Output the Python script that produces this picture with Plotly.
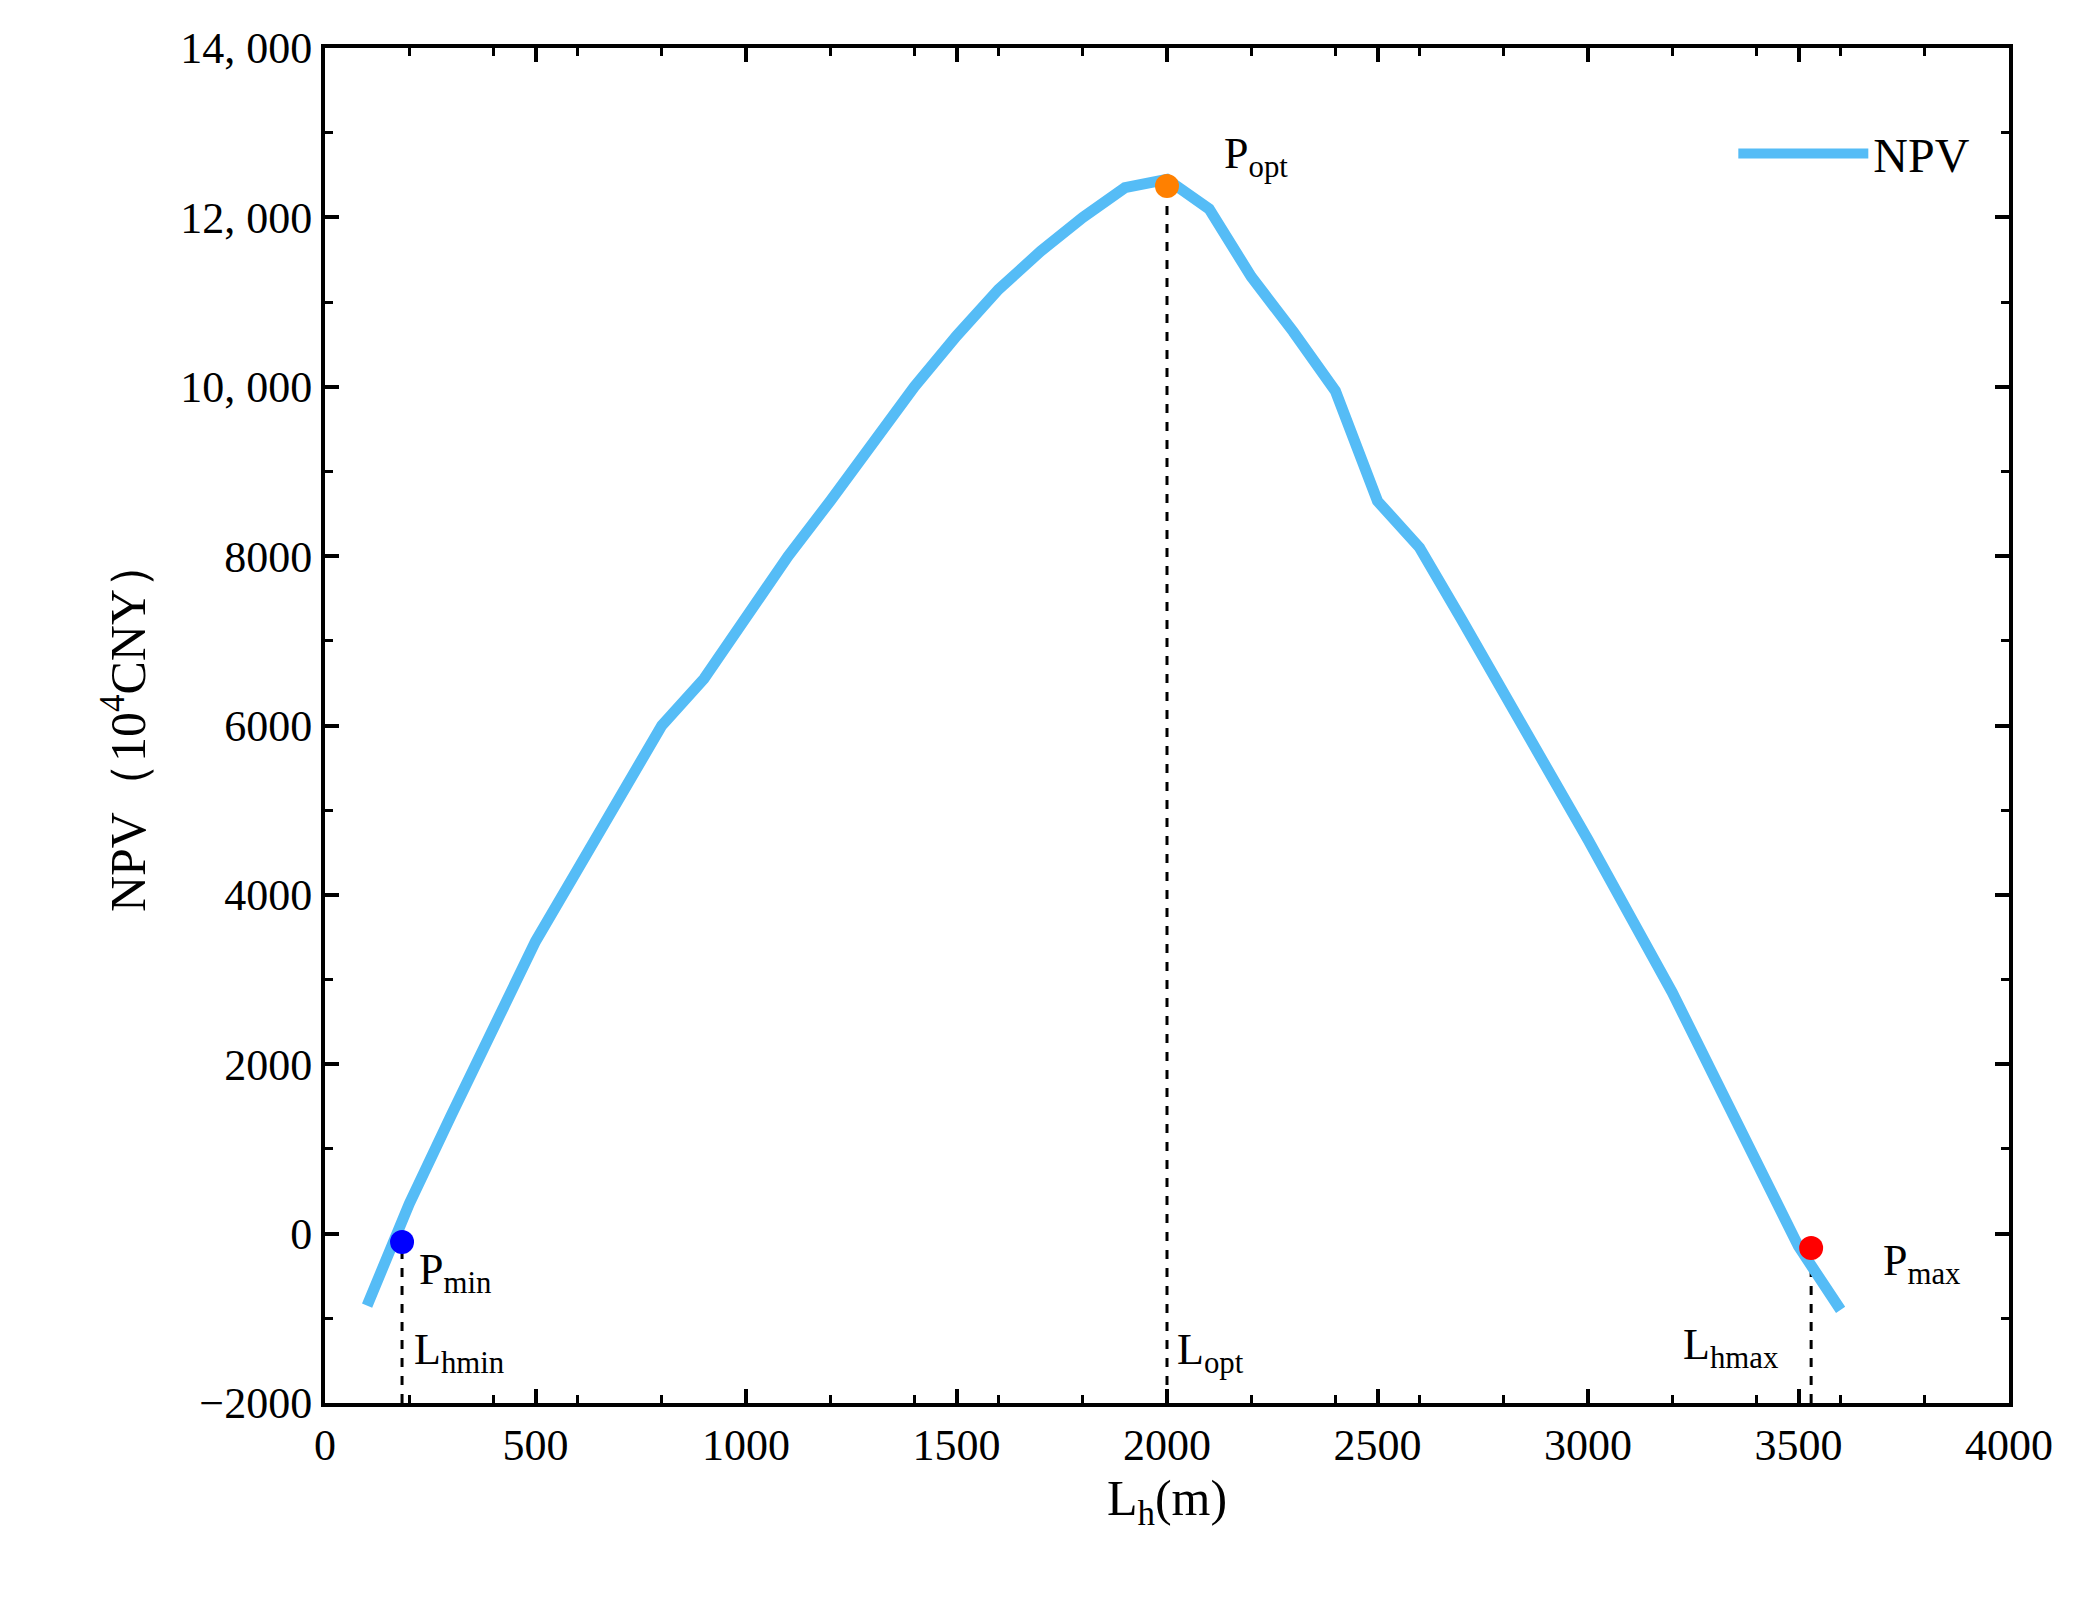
import plotly.graph_objects as go

lh = [100,200,300,400,500,600,700,800,900,1000,1100,1200,1300,1400,1500,1600,1700,1800,1900,2000,
      2100,2200,2300,2400,2500,2600,2700,2800,2900,3000,3100,3200,3300,3400,3500,3600]
npv = [-850,350,1400,2400,3450,4300,5150,6000,6550,7300,8000,8650,9350,10000,10600,11150,11600,12000,12350,12450,
       12100,11300,10650,9950,8650,8100,7250,6400,5550,4650,3750,2850,1850,850,-150,-900]
pt_x = [183, 2000, 3530]
pt_y = [-100, 12370, -170]
pt_colors = ["#0000FF", "#FF8000", "#FF0000"]
pt_labels = ["P<sub>min</sub>", "P<sub>opt</sub>", "P<sub>max</sub>"]
l_labels = ["L<sub>hmin</sub>", "L<sub>opt</sub>", "L<sub>hmax</sub>"]
yticks = [-2000,0,2000,4000,6000,8000,10000,12000,14000]
yticktext = ["\u22122000","0","2000","4000","6000","8000","10, 000","12, 000","14, 000"]
xticks = [0,500,1000,1500,2000,2500,3000,3500,4000]

font = "Liberation Serif"
fig = go.Figure()
for x, y in zip(pt_x, pt_y):
    fig.add_trace(go.Scatter(x=[x, x], y=[-2000, y], mode="lines",
                             line=dict(color="black", width=3, dash="dash"), showlegend=False))
fig.add_trace(go.Scatter(x=lh, y=npv, mode="lines", name="NPV",
                         line=dict(color="#55BCF6", width=11)))
fig.add_trace(go.Scatter(x=pt_x, y=pt_y, mode="markers", showlegend=False,
                         marker=dict(color=pt_colors, size=24)))

anns = [
    dict(x=pt_x[0], y=pt_y[0], text=pt_labels[0], xshift=15, yshift=-30, xanchor="left"),
    dict(x=pt_x[1], y=pt_y[1], text=pt_labels[1], xshift=55, yshift=30, xanchor="left"),
    dict(x=pt_x[2], y=pt_y[2], text=pt_labels[2], xshift=70, yshift=-15, xanchor="left"),
    dict(x=pt_x[0], y=-1400, text=l_labels[0], xshift=10, xanchor="left"),
    dict(x=pt_x[1], y=-1400, text=l_labels[1], xshift=8, xanchor="left"),
    dict(x=pt_x[2], y=-1350, text=l_labels[2], xshift=-30, xanchor="right"),
]
for a in anns:
    fig.add_annotation(**a, showarrow=False, font=dict(family=font, size=44, color="black"))

axis_common = dict(showline=True, linecolor="black", linewidth=4, mirror="ticks", ticks="inside",
                   ticklen=14, tickwidth=4, tickcolor="black", showgrid=False, zeroline=False,
                   tickfont=dict(family=font, size=44, color="black"),
                   minor=dict(ticks="inside", ticklen=8, tickwidth=3, tickcolor="black"))
fig.update_xaxes(range=[0, 4000], tickvals=xticks,
                 title=dict(text="L<sub>h</sub>(m)", font=dict(family=font, size=50, color="black"), standoff=10),
                 **axis_common)
fig.update_yaxes(range=[-2000, 14000], tickvals=yticks, ticktext=yticktext,
                 title=dict(text="NPV（10<sup>4</sup>CNY）", font=dict(family=font, size=50, color="black"), standoff=20),
                 **axis_common)
fig.update_layout(width=2095, height=1597, plot_bgcolor="white", paper_bgcolor="white",
                  margin=dict(l=317, r=94, t=40, b=202),
                  legend=dict(x=0.98, y=0.95, xanchor="right", yanchor="top", bgcolor="rgba(0,0,0,0)",
                              itemwidth=130,
                              font=dict(family=font, size=48, color="black")))
fig.write_html("out.html")
